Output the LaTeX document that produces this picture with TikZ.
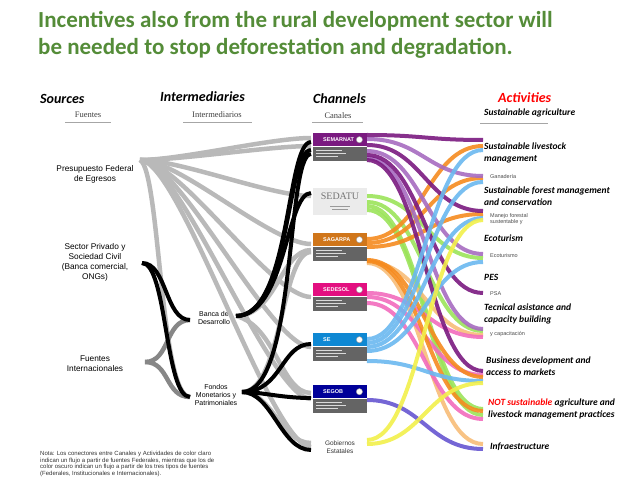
\documentclass[tikz,border=0pt]{standalone}
\usepackage{fontspec}
\setmainfont{Carlito}
\newfontfamily\arial{Liberation Sans}
\newfontfamily\tnr{Liberation Serif}
\usetikzlibrary{calc}
\definecolor{titlegreen}{RGB}{84,140,56}
\definecolor{pd}{RGB}{122,26,128}
\definecolor{pl}{RGB}{166,108,192}
\definecolor{gr}{RGB}{155,227,90}
\definecolor{og}{RGB}{245,139,31}
\definecolor{ol}{RGB}{247,189,120}
\definecolor{pk}{RGB}{242,108,188}
\definecolor{bl}{RGB}{106,184,240}
\definecolor{sg}{RGB}{102,85,208}
\definecolor{ye}{RGB}{242,240,74}
\definecolor{lg}{RGB}{185,185,185}
\definecolor{mg}{RGB}{135,135,135}
\definecolor{boxgray}{RGB}{100,100,100}
\begin{document}
\begin{tikzpicture}[x=1pt,y=-1pt,
  flow/.style={line width=4pt,opacity=0.9},
  gflow/.style={line width=4.5pt,lg},
  kflow/.style={line width=4pt,black},
  hdr/.style={font=\fontsize{14}{16}\selectfont\bfseries\itshape,anchor=west,inner sep=0},
  sub/.style={font=\tnr\fontsize{8.5}{9}\selectfont,text=black!75,inner sep=0},
  act/.style={font=\fontsize{9.5}{12.5}\selectfont\bfseries\itshape,anchor=west,align=left,inner sep=0},
  spa/.style={font=\arial\fontsize{5.5}{6.5}\selectfont,text=black!70,anchor=west,align=left,inner sep=0},
  src/.style={font=\arial\fontsize{8.3}{10}\selectfont,align=center,inner sep=0},
  chtop/.style={minimum width=54pt,minimum height=13pt,inner sep=2pt,anchor=north west,text=white,font=\arial\fontsize{5.5}{6}\selectfont\bfseries,text width=34pt,align=left},
  chbot/.style={fill=boxgray,minimum width=54pt,minimum height=14pt,inner sep=0,anchor=north west},
  emb/.style={circle,fill=white,draw=black!40,inner sep=2.2pt},
  uline/.style={black!35,line width=1pt}]
\useasboundingbox (0,0) rectangle (638,478);

% title
\node[anchor=west,inner sep=0,font=\fontsize{23}{27}\selectfont\bfseries,text=titlegreen,align=left] (title) at (38,35)
 {Incentives also from the rural development sector will\\be needed to stop deforestation and degradation.};

% headers
\node[hdr] (hs) at (40,99) {Sources};
\node[hdr] (hi) at (160,97) {Intermediaries};
\node[hdr] (hc) at (313,99) {Channels};
\node[hdr,text=red] (ha) at (498,98) {Activities};
\node[sub] (fu) at (88,115) {Fuentes};
\node[sub] (in) at (217,115) {Intermediarios};
\node[sub] (ca) at (338,116) {Canales};
\draw[uline] (65,123) -- (111,123);
\draw[uline] (183,123) -- (252,123);
\draw[uline] (312,123) -- (363,123);
\draw[uline] (480,124) -- (548,124);

% sources and intermediaries
\node[src] (pres) at (95,174) {Presupuesto Federal\\de Egresos};
\node[src] (priv) at (95,262) {Sector Privado y\\Sociedad Civil\\(Banca comercial,\\ONGs)};
\node[src] (fint) at (95,364) {Fuentes\\Internacionales};
\node[src,font=\arial\fontsize{7}{8}\selectfont] (banca) at (214,318) {Banca de\\Desarrollo};
\node[src,font=\arial\fontsize{7}{8}\selectfont] (fondos) at (216,395) {Fondos\\Monetarios y\\Patrimoniales};
\coordinate (presE) at (140,160);
\coordinate (privE) at (142,263);
\coordinate (fintE) at (145,362);
\coordinate (bancaW) at (190,320);
\coordinate (bancaE) at (236,316);
\coordinate (fondosW) at (190,397);
\coordinate (fondosE) at (242,392);

% channel boxes (positions)
\coordinate (cin1) at (311,140);
\coordinate (cin2) at (311,196);
\coordinate (cin3) at (311,244);
\coordinate (cin4) at (311,294);
\coordinate (cin5) at (311,344);
\coordinate (cin6) at (311,396);
\coordinate (cin7) at (311,447);

% gray flows from Presupuesto
\foreach \t/\o in {cin1/-2,cin1/6,cin2/0,cin3/0,cin4/3,cin5/3,cin6/3,cin7/0}
  \draw[gflow] (presE) .. controls +(40,0) and +(-40,0) .. ($(\t)+(0,\o)$);
\draw[gflow] (presE) .. controls +(20,10) and +(-30,0) .. (fondosW);
\draw[gflow,mg] (fintE) .. controls +(25,0) and +(-25,0) .. (bancaW);
\draw[gflow,mg] (fintE) .. controls +(25,0) and +(-25,0) .. (fondosW);
\draw[gflow] (bancaE) .. controls +(40,0) and +(-30,0) .. ($(cin3)+(0,6)$);
\draw[gflow] (bancaE) .. controls +(40,10) and +(-30,0) .. ($(cin6)+(0,-3)$);
\draw[gflow] (fondosE) .. controls +(40,0) and +(-30,0) .. ($(cin3)+(0,8)$);
\draw[gflow] (fondosE) .. controls +(30,0) and +(-30,0) .. ($(cin7)+(0,-4)$);
% black flows
\draw[kflow] (privE) .. controls +(25,0) and +(-25,0) .. (bancaW);
\draw[kflow] (privE) .. controls +(25,0) and +(-25,0) .. (fondosW);
\draw[kflow] (bancaE) .. controls +(55,0) and +(-25,0) .. ($(cin1)+(0,2)$);
\draw[kflow] (bancaE) .. controls +(55,0) and +(-25,0) .. ($(cin1)+(0,10)$);
\draw[kflow] (bancaE) .. controls +(50,0) and +(-25,0) .. ($(cin2)+(0,-3)$);
\draw[kflow] (fondosE) .. controls +(55,0) and +(-25,0) .. ($(cin1)+(0,14)$);
\draw[kflow] (fondosE) .. controls +(40,0) and +(-30,0) .. (cin5);
\draw[kflow] (fondosE) .. controls +(20,0) and +(-30,0) .. ($(cin6)+(0,2)$);
\draw[kflow] (fondosE) .. controls +(30,0) and +(-30,0) .. ($(cin7)+(0,3)$);

% activity targets
\coordinate (t1) at (483,142);
\coordinate (t2) at (483,178);
\coordinate (t3) at (483,215);
\coordinate (t4) at (483,258);
\coordinate (t5) at (483,293);
\coordinate (t6) at (483,333);
\coordinate (t7) at (483,375);
\coordinate (t8) at (483,413);
\coordinate (t9) at (483,447);
\coordinate (c1) at (367,133);
\coordinate (c2) at (367,188);
\coordinate (c3) at (367,233);
\coordinate (c4) at (367,283);
\coordinate (c5) at (367,333);
\coordinate (c6) at (367,385);
\coordinate (c7) at (367,440);

\foreach \c/\s/\o/\t/\p in {
  gr/c2/8/t4/0, gr/c2/14/t6/-2, gr/c2/18/t8/-4, gr/c2/22/t8/2,
  ol/c3/29/t6/2, ol/c3/30/t9/-3,
  pk/c4/10/t6/4, pk/c4/14/t7/0, pk/c4/20/t8/6,
  og/c3/6/t1/4, og/c3/10/t2/0, og/c3/14/t3/-1, og/c3/27/t7/2, og/c3/28/t8/-2,
  pl/c1/6/t2/-2, pl/c1/18/t4/-4, pl/c1/25/t6/-4,
  pd/c1/2/t1/-2, pd/c1/12/t3/-4, pd/c1/22/t5/0, pd/c1/27/t7/-4,
  bl/c5/6/t1/8, bl/c5/10/t2/4, bl/c5/14/t3/3, bl/c5/18/t4/4, bl/c5/28/t7/6,
  sg/c6/15/t9/2,
  ye/c7/0/t3/5, ye/c7/4/t7/8}
  \draw[flow,\c] ($(\s)+(0,\o)$) .. controls +(55,0) and +(-55,0) .. ($(\t)+(0,\p)$);

% channel boxes
\foreach \n/\y/\col/\lab in {semarnat/133/pd/SEMARNAT, sagarpa/233/og!85!black/SAGARPA, sedesol/283/magenta!80!purple/SEDESOL, se/333/cyan!70!blue/SE, segob/385/blue!60!black/SEGOB}{
  \node[chtop,fill=\col] (\n) at (313,\y) {\lab};
  \node[emb] (\n e) at ($(\n.east)+(-8,0)$) {};
  \node[chbot] (\n b) at (\n.south west) {};
  \draw[white!70!gray,line width=0.6pt] ($(\n b.west)+(3,-3)$) -- +(26,0) ($(\n b.west)+(3,0)$) -- +(30,0) ($(\n b.west)+(3,3)$) -- +(22,0);
}
\node[fill=black!8,minimum width=54pt,minimum height=27pt,anchor=north west,inner sep=0] (sedatu) at (313,188) {};
\node[font=\tnr\fontsize{10}{10}\selectfont,text=black!55,inner sep=0] (sedatut) at (340,196) {SEDATU};
\draw[black!40,line width=0.5pt] (330,206) -- (350,206) (332,209) -- (348,209);
\node[src,font=\arial\fontsize{6.5}{7.5}\selectfont,text=black!80] (gob) at (340,447) {Gobiernos\\Estatales};

% activities
\node[act] (a1) at (484,113) {Sustainable agriculture};
\node[act] (a2) at (484,153) {Sustainable livestock\\management};
\node[spa] (s2) at (490,177) {Ganader\'ia};
\node[act] (a3) at (484,196) {Sustainable forest management\\and conservation};
\node[spa] (s3) at (490,219) {Manejo forestal\\sustentable y};
\node[act] (a4) at (484,238) {Ecoturism};
\node[spa] (s4) at (490,256) {Ecoturismo};
\node[act] (a5) at (484,277) {PES};
\node[spa] (s5) at (490,294) {PSA};
\node[act] (a6) at (484,314) {Tecnical asistance and\\capacity building};
\node[spa] (s6) at (490,334) {y capacitaci\'on};
\node[act] (a7) at (486,366) {Business development and\\access to markets};
\node[act] (a8) at (488,409) {\textcolor{red}{NOT sustainable} agriculture and\\livestock management practices};
\node[act] (a9) at (490,447) {Infraestructure};

% note
\node[anchor=north west,inner sep=0,align=left,font=\arial\fontsize{6}{6.6}\selectfont,text=black!80] (note) at (40,451)
{Nota: Los conectores entre Canales y Actividades de color claro\\indican un flujo a partir de fuentes Federales, mientras que los de\\color oscuro indican un flujo a partir de los tres tipos de fuentes\\(Federales, Institucionales e Internacionales).};
\end{tikzpicture}
\end{document}
